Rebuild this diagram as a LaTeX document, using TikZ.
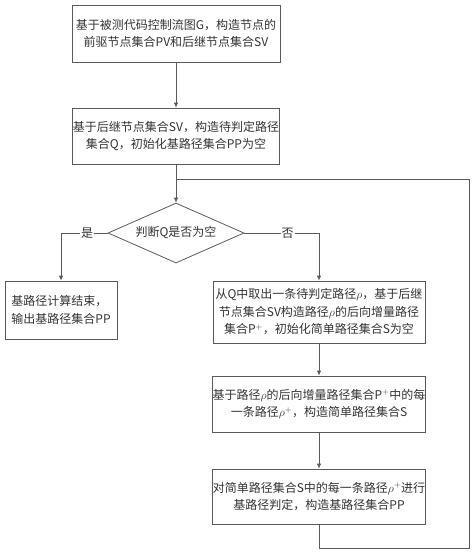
\documentclass[tikz,border=0pt]{standalone}
\usepackage{fontspec}
\setmainfont{Noto Sans CJK SC}
\usetikzlibrary{shapes.geometric,arrows.meta}

\begin{document}
\begin{tikzpicture}[x=1pt,y=-1pt,
    line/.style={draw=black!65,line width=0.8pt},
    arr/.style={line,-{Latex[length=5pt,width=4.5pt]}},
    stepbox/.style={line,rectangle,inner sep=0pt,text=black!80,align=center,
        font=\fontsize{12}{17.5}\selectfont},
    judge/.style={line,diamond,inner sep=0pt,aspect=2.27,text=black!80,
        minimum width=136pt,minimum height=60pt,font=\fontsize{12}{17.5}\selectfont},
    tag/.style={fill=white,inner sep=1pt,text=black!80,font=\fontsize{12}{14}\selectfont}]
    \useasboundingbox (0,0) rectangle (474,555);

    \node[stepbox,minimum width=208pt,minimum height=57pt] (build) at (176,33.5)
        {基于被测代码控制流图G，构造节点的\\前驱节点集合PV和后继节点集合SV};
    \node[stepbox,minimum width=207pt,minimum height=56pt] (init) at (176,136)
        {基于后继节点集合SV，构造待判定路径\\集合Q，初始化基路径集合PP为空};
    \node[judge] (check) at (176,233) {判断Q是否为空};
    \node[stepbox,align=left,minimum width=112pt,minimum height=58pt] (done) at (61,310)
        {基路径计算结束，\\输出基路径集合PP};
    \node[stepbox,minimum width=212pt,minimum height=62pt] (pick) at (319,312)
        {从Q中取出一条待判定路径$\rho$，基于后继\\节点集合SV构造路径$\rho$的后向增量路径\\集合P$^+$，初始化简单路径集合S为空};
    \node[stepbox,minimum width=212pt,minimum height=56pt] (simple) at (319,404)
        {基于路径$\rho$的后向增量路径集合P$^+$中的每\\一条路径$\rho^+$，构造简单路径集合S};
    \node[stepbox,minimum width=212pt,minimum height=55pt] (basis) at (319,496.5)
        {对简单路径集合S中的每一条路径$\rho^+$进行\\基路径判定，构造基路径集合PP};

    \coordinate (J) at (176,179);
    \coordinate (LB) at (469,548);
    \coordinate (LT) at (469,179);

    \draw[arr] (build) -- (init);
    \draw[line] (init) -- (J);
    \draw[arr] (J) -- (check);
    \draw[arr] (check.west) -| node[tag,pos=0.22] {是} (done.north);
    \draw[arr] (check.east) -| node[tag,pos=0.29] {否} (pick.north);
    \draw[arr] (pick) -- (simple);
    \draw[arr] (simple) -- (basis);
    \draw[line] (basis.south) |- (LB) -- (LT) -- (J);
\end{tikzpicture}
\end{document}
